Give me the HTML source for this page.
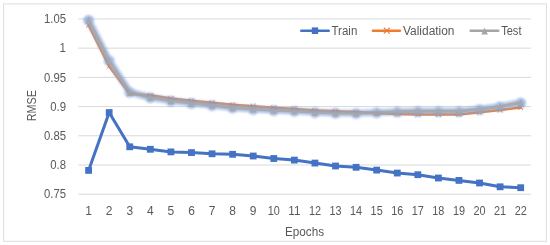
<!DOCTYPE html>
<html><head><meta charset="utf-8"><title>RMSE vs Epochs</title>
<style>html,body{margin:0;padding:0;background:#fff;width:550px;height:245px;overflow:hidden;}svg{display:block;}</style>
</head><body>
<svg width="550" height="245" viewBox="0 0 550 245">
<defs><filter id="glow" x="-10%" y="-50%" width="120%" height="200%"><feGaussianBlur stdDeviation="1.2"/></filter></defs>
<rect x="0" y="0" width="550" height="245" fill="#fff"/>
<rect x="3.6" y="3.9" width="542.8" height="237.4" fill="#fff" stroke="#DCDCDC" stroke-width="1"/>
<line x1="78.3" x2="531.2" y1="18.95" y2="18.95" stroke="#D9D9D9" stroke-width="1"/>
<line x1="78.3" x2="531.2" y1="48.16" y2="48.16" stroke="#D9D9D9" stroke-width="1"/>
<line x1="78.3" x2="531.2" y1="77.37" y2="77.37" stroke="#D9D9D9" stroke-width="1"/>
<line x1="78.3" x2="531.2" y1="106.58" y2="106.58" stroke="#D9D9D9" stroke-width="1"/>
<line x1="78.3" x2="531.2" y1="135.79" y2="135.79" stroke="#D9D9D9" stroke-width="1"/>
<line x1="78.3" x2="531.2" y1="165.00" y2="165.00" stroke="#D9D9D9" stroke-width="1"/>
<line x1="78.3" x2="531.2" y1="194.21" y2="194.21" stroke="#D9D9D9" stroke-width="1"/>
<text x="44.0" y="23.15" text-anchor="start" font-family="'Liberation Sans', sans-serif" font-size="12.0" fill="#595959"  textLength="22.0" lengthAdjust="spacingAndGlyphs">1.05</text>
<text x="59.6" y="52.36" text-anchor="start" font-family="'Liberation Sans', sans-serif" font-size="12.0" fill="#595959"  textLength="6.4" lengthAdjust="spacingAndGlyphs">1</text>
<text x="44.0" y="81.57" text-anchor="start" font-family="'Liberation Sans', sans-serif" font-size="12.0" fill="#595959"  textLength="22.0" lengthAdjust="spacingAndGlyphs">0.95</text>
<text x="50.2" y="110.78" text-anchor="start" font-family="'Liberation Sans', sans-serif" font-size="12.0" fill="#595959"  textLength="15.8" lengthAdjust="spacingAndGlyphs">0.9</text>
<text x="44.0" y="139.99" text-anchor="start" font-family="'Liberation Sans', sans-serif" font-size="12.0" fill="#595959"  textLength="22.0" lengthAdjust="spacingAndGlyphs">0.85</text>
<text x="50.2" y="169.20" text-anchor="start" font-family="'Liberation Sans', sans-serif" font-size="12.0" fill="#595959"  textLength="15.8" lengthAdjust="spacingAndGlyphs">0.8</text>
<text x="44.0" y="198.41" text-anchor="start" font-family="'Liberation Sans', sans-serif" font-size="12.0" fill="#595959"  textLength="22.0" lengthAdjust="spacingAndGlyphs">0.75</text>
<text x="88.60" y="214.8" text-anchor="middle" font-family="'Liberation Sans', sans-serif" font-size="12.0" fill="#595959" >1</text>
<text x="109.18" y="214.8" text-anchor="middle" font-family="'Liberation Sans', sans-serif" font-size="12.0" fill="#595959" >2</text>
<text x="129.75" y="214.8" text-anchor="middle" font-family="'Liberation Sans', sans-serif" font-size="12.0" fill="#595959" >3</text>
<text x="150.33" y="214.8" text-anchor="middle" font-family="'Liberation Sans', sans-serif" font-size="12.0" fill="#595959" >4</text>
<text x="170.90" y="214.8" text-anchor="middle" font-family="'Liberation Sans', sans-serif" font-size="12.0" fill="#595959" >5</text>
<text x="191.48" y="214.8" text-anchor="middle" font-family="'Liberation Sans', sans-serif" font-size="12.0" fill="#595959" >6</text>
<text x="212.06" y="214.8" text-anchor="middle" font-family="'Liberation Sans', sans-serif" font-size="12.0" fill="#595959" >7</text>
<text x="232.63" y="214.8" text-anchor="middle" font-family="'Liberation Sans', sans-serif" font-size="12.0" fill="#595959" >8</text>
<text x="253.21" y="214.8" text-anchor="middle" font-family="'Liberation Sans', sans-serif" font-size="12.0" fill="#595959" >9</text>
<text x="267.73" y="214.8" font-family="'Liberation Sans', sans-serif" font-size="12.0" fill="#595959"  textLength="12.1" lengthAdjust="spacingAndGlyphs">10</text>
<text x="288.31" y="214.8" font-family="'Liberation Sans', sans-serif" font-size="12.0" fill="#595959"  textLength="12.1" lengthAdjust="spacingAndGlyphs">11</text>
<text x="308.89" y="214.8" font-family="'Liberation Sans', sans-serif" font-size="12.0" fill="#595959"  textLength="12.1" lengthAdjust="spacingAndGlyphs">12</text>
<text x="329.46" y="214.8" font-family="'Liberation Sans', sans-serif" font-size="12.0" fill="#595959"  textLength="12.1" lengthAdjust="spacingAndGlyphs">13</text>
<text x="350.04" y="214.8" font-family="'Liberation Sans', sans-serif" font-size="12.0" fill="#595959"  textLength="12.1" lengthAdjust="spacingAndGlyphs">14</text>
<text x="370.61" y="214.8" font-family="'Liberation Sans', sans-serif" font-size="12.0" fill="#595959"  textLength="12.1" lengthAdjust="spacingAndGlyphs">15</text>
<text x="391.19" y="214.8" font-family="'Liberation Sans', sans-serif" font-size="12.0" fill="#595959"  textLength="12.1" lengthAdjust="spacingAndGlyphs">16</text>
<text x="411.77" y="214.8" font-family="'Liberation Sans', sans-serif" font-size="12.0" fill="#595959"  textLength="12.1" lengthAdjust="spacingAndGlyphs">17</text>
<text x="432.34" y="214.8" font-family="'Liberation Sans', sans-serif" font-size="12.0" fill="#595959"  textLength="12.1" lengthAdjust="spacingAndGlyphs">18</text>
<text x="452.92" y="214.8" font-family="'Liberation Sans', sans-serif" font-size="12.0" fill="#595959"  textLength="12.1" lengthAdjust="spacingAndGlyphs">19</text>
<text x="473.49" y="214.8" font-family="'Liberation Sans', sans-serif" font-size="12.0" fill="#595959"  textLength="12.1" lengthAdjust="spacingAndGlyphs">20</text>
<text x="494.07" y="214.8" font-family="'Liberation Sans', sans-serif" font-size="12.0" fill="#595959"  textLength="12.1" lengthAdjust="spacingAndGlyphs">21</text>
<text x="514.65" y="214.8" font-family="'Liberation Sans', sans-serif" font-size="12.0" fill="#595959"  textLength="12.1" lengthAdjust="spacingAndGlyphs">22</text>
<text x="285.00" y="235.6" font-family="'Liberation Sans', sans-serif" font-size="12.8" fill="#595959"  textLength="39" lengthAdjust="spacingAndGlyphs">Epochs</text>
<text transform="translate(35.6,105.7) rotate(-90)" x="-15.5" y="0" font-family="'Liberation Sans', sans-serif" font-size="12.8" fill="#595959"  textLength="31" lengthAdjust="spacingAndGlyphs">RMSE</text>
<polyline points="88.60,170.40 109.18,112.55 129.75,146.80 150.33,149.30 170.90,151.90 191.48,152.60 212.06,153.80 232.63,154.30 253.21,156.00 273.78,158.50 294.36,160.10 314.94,163.05 335.51,166.00 356.09,167.30 376.66,170.10 397.24,173.05 417.82,174.70 438.39,178.00 458.97,180.40 479.54,183.00 500.12,186.80 520.70,187.70" fill="none" stroke="#4472C4" stroke-width="3" stroke-linejoin="round" stroke-linecap="round"/>
<rect x="85.20" y="167.00" width="6.8" height="6.8" fill="#4472C4"/>
<rect x="105.78" y="109.15" width="6.8" height="6.8" fill="#4472C4"/>
<rect x="126.35" y="143.40" width="6.8" height="6.8" fill="#4472C4"/>
<rect x="146.93" y="145.90" width="6.8" height="6.8" fill="#4472C4"/>
<rect x="167.50" y="148.50" width="6.8" height="6.8" fill="#4472C4"/>
<rect x="188.08" y="149.20" width="6.8" height="6.8" fill="#4472C4"/>
<rect x="208.66" y="150.40" width="6.8" height="6.8" fill="#4472C4"/>
<rect x="229.23" y="150.90" width="6.8" height="6.8" fill="#4472C4"/>
<rect x="249.81" y="152.60" width="6.8" height="6.8" fill="#4472C4"/>
<rect x="270.38" y="155.10" width="6.8" height="6.8" fill="#4472C4"/>
<rect x="290.96" y="156.70" width="6.8" height="6.8" fill="#4472C4"/>
<rect x="311.54" y="159.65" width="6.8" height="6.8" fill="#4472C4"/>
<rect x="332.11" y="162.60" width="6.8" height="6.8" fill="#4472C4"/>
<rect x="352.69" y="163.90" width="6.8" height="6.8" fill="#4472C4"/>
<rect x="373.26" y="166.70" width="6.8" height="6.8" fill="#4472C4"/>
<rect x="393.84" y="169.65" width="6.8" height="6.8" fill="#4472C4"/>
<rect x="414.42" y="171.30" width="6.8" height="6.8" fill="#4472C4"/>
<rect x="434.99" y="174.60" width="6.8" height="6.8" fill="#4472C4"/>
<rect x="455.57" y="177.00" width="6.8" height="6.8" fill="#4472C4"/>
<rect x="476.14" y="179.60" width="6.8" height="6.8" fill="#4472C4"/>
<rect x="496.72" y="183.40" width="6.8" height="6.8" fill="#4472C4"/>
<rect x="517.30" y="184.30" width="6.8" height="6.8" fill="#4472C4"/>
<polyline points="88.60,25.20 109.18,66.20 129.75,94.00 150.33,95.30 170.90,98.60 191.48,100.80 212.06,102.80 232.63,104.80 253.21,106.30 273.78,107.80 294.36,109.00 314.94,110.50 335.51,111.20 356.09,112.00 376.66,113.30 397.24,114.00 417.82,114.50 438.39,114.50 458.97,114.40 479.54,112.20 500.12,110.00 520.70,107.60" fill="none" stroke="#ED7D31" stroke-width="2.5" stroke-linejoin="round" stroke-linecap="round"/>
<path d="M86.20,22.80L91.00,27.60M91.00,22.80L86.20,27.60" stroke="#ED7D31" stroke-width="1"/>
<path d="M106.78,63.80L111.58,68.60M111.58,63.80L106.78,68.60" stroke="#ED7D31" stroke-width="1"/>
<path d="M127.35,91.60L132.15,96.40M132.15,91.60L127.35,96.40" stroke="#ED7D31" stroke-width="1"/>
<path d="M147.93,92.90L152.73,97.70M152.73,92.90L147.93,97.70" stroke="#ED7D31" stroke-width="1"/>
<path d="M168.50,96.20L173.30,101.00M173.30,96.20L168.50,101.00" stroke="#ED7D31" stroke-width="1"/>
<path d="M189.08,98.40L193.88,103.20M193.88,98.40L189.08,103.20" stroke="#ED7D31" stroke-width="1"/>
<path d="M209.66,100.40L214.46,105.20M214.46,100.40L209.66,105.20" stroke="#ED7D31" stroke-width="1"/>
<path d="M230.23,102.40L235.03,107.20M235.03,102.40L230.23,107.20" stroke="#ED7D31" stroke-width="1"/>
<path d="M250.81,103.90L255.61,108.70M255.61,103.90L250.81,108.70" stroke="#ED7D31" stroke-width="1"/>
<path d="M271.38,105.40L276.18,110.20M276.18,105.40L271.38,110.20" stroke="#ED7D31" stroke-width="1"/>
<path d="M291.96,106.60L296.76,111.40M296.76,106.60L291.96,111.40" stroke="#ED7D31" stroke-width="1"/>
<path d="M312.54,108.10L317.34,112.90M317.34,108.10L312.54,112.90" stroke="#ED7D31" stroke-width="1"/>
<path d="M333.11,108.80L337.91,113.60M337.91,108.80L333.11,113.60" stroke="#ED7D31" stroke-width="1"/>
<path d="M353.69,109.60L358.49,114.40M358.49,109.60L353.69,114.40" stroke="#ED7D31" stroke-width="1"/>
<path d="M374.26,110.90L379.06,115.70M379.06,110.90L374.26,115.70" stroke="#ED7D31" stroke-width="1"/>
<path d="M394.84,111.60L399.64,116.40M399.64,111.60L394.84,116.40" stroke="#ED7D31" stroke-width="1"/>
<path d="M415.42,112.10L420.22,116.90M420.22,112.10L415.42,116.90" stroke="#ED7D31" stroke-width="1"/>
<path d="M435.99,112.10L440.79,116.90M440.79,112.10L435.99,116.90" stroke="#ED7D31" stroke-width="1"/>
<path d="M456.57,112.00L461.37,116.80M461.37,112.00L456.57,116.80" stroke="#ED7D31" stroke-width="1"/>
<path d="M477.14,109.80L481.94,114.60M481.94,109.80L477.14,114.60" stroke="#ED7D31" stroke-width="1"/>
<path d="M497.72,107.60L502.52,112.40M502.52,107.60L497.72,112.40" stroke="#ED7D31" stroke-width="1"/>
<path d="M518.30,105.20L523.10,110.00M523.10,105.20L518.30,110.00" stroke="#ED7D31" stroke-width="1"/>
<g filter="url(#glow)" opacity="0.7">
<polyline points="88.60,20.00 109.18,60.50 129.75,92.00 150.33,97.50 170.90,100.80 191.48,103.10 212.06,105.30 232.63,107.70 253.21,109.10 273.78,110.30 294.36,110.90 314.94,112.30 335.51,113.00 356.09,113.20 376.66,112.50 397.24,111.80 417.82,111.30 438.39,111.20 458.97,111.30 479.54,109.30 500.12,106.40 520.70,102.80" fill="none" stroke="#8FAADC" stroke-width="7" stroke-linejoin="round" stroke-linecap="round"/>
<circle cx="88.60" cy="20.30" r="5.3" fill="#7E9FDA"/>
<circle cx="109.18" cy="60.80" r="5.3" fill="#7E9FDA"/>
<circle cx="129.75" cy="92.30" r="5.3" fill="#7E9FDA"/>
<circle cx="150.33" cy="97.80" r="5.3" fill="#7E9FDA"/>
<circle cx="170.90" cy="101.10" r="5.3" fill="#7E9FDA"/>
<circle cx="191.48" cy="103.40" r="5.3" fill="#7E9FDA"/>
<circle cx="212.06" cy="105.60" r="5.3" fill="#7E9FDA"/>
<circle cx="232.63" cy="108.00" r="5.3" fill="#7E9FDA"/>
<circle cx="253.21" cy="109.40" r="5.3" fill="#7E9FDA"/>
<circle cx="273.78" cy="110.60" r="5.3" fill="#7E9FDA"/>
<circle cx="294.36" cy="111.20" r="5.3" fill="#7E9FDA"/>
<circle cx="314.94" cy="112.60" r="5.3" fill="#7E9FDA"/>
<circle cx="335.51" cy="113.30" r="5.3" fill="#7E9FDA"/>
<circle cx="356.09" cy="113.50" r="5.3" fill="#7E9FDA"/>
<circle cx="376.66" cy="112.80" r="5.3" fill="#7E9FDA"/>
<circle cx="397.24" cy="112.10" r="5.3" fill="#7E9FDA"/>
<circle cx="417.82" cy="111.60" r="5.3" fill="#7E9FDA"/>
<circle cx="438.39" cy="111.50" r="5.3" fill="#7E9FDA"/>
<circle cx="458.97" cy="111.60" r="5.3" fill="#7E9FDA"/>
<circle cx="479.54" cy="109.60" r="5.3" fill="#7E9FDA"/>
<circle cx="500.12" cy="106.70" r="5.3" fill="#7E9FDA"/>
<circle cx="520.70" cy="103.10" r="5.3" fill="#7E9FDA"/>
</g>
<g opacity="0.8">
<polyline points="88.60,20.00 109.18,60.50 129.75,92.00 150.33,97.50 170.90,100.80 191.48,103.10 212.06,105.30 232.63,107.70 253.21,109.10 273.78,110.30 294.36,110.90 314.94,112.30 335.51,113.00 356.09,113.20 376.66,112.50 397.24,111.80 417.82,111.30 438.39,111.20 458.97,111.30 479.54,109.30 500.12,106.40 520.70,102.80" fill="none" stroke="#A5A5A5" stroke-width="3" stroke-linejoin="round" stroke-linecap="round"/>
<path d="M88.60,16.50L92.00,23.50L85.20,23.50Z" fill="#A5A5A5"/>
<path d="M109.18,57.00L112.58,64.00L105.78,64.00Z" fill="#A5A5A5"/>
<path d="M129.75,88.50L133.15,95.50L126.35,95.50Z" fill="#A5A5A5"/>
<path d="M150.33,94.00L153.73,101.00L146.93,101.00Z" fill="#A5A5A5"/>
<path d="M170.90,97.30L174.30,104.30L167.50,104.30Z" fill="#A5A5A5"/>
<path d="M191.48,99.60L194.88,106.60L188.08,106.60Z" fill="#A5A5A5"/>
<path d="M212.06,101.80L215.46,108.80L208.66,108.80Z" fill="#A5A5A5"/>
<path d="M232.63,104.20L236.03,111.20L229.23,111.20Z" fill="#A5A5A5"/>
<path d="M253.21,105.60L256.61,112.60L249.81,112.60Z" fill="#A5A5A5"/>
<path d="M273.78,106.80L277.18,113.80L270.38,113.80Z" fill="#A5A5A5"/>
<path d="M294.36,107.40L297.76,114.40L290.96,114.40Z" fill="#A5A5A5"/>
<path d="M314.94,108.80L318.34,115.80L311.54,115.80Z" fill="#A5A5A5"/>
<path d="M335.51,109.50L338.91,116.50L332.11,116.50Z" fill="#A5A5A5"/>
<path d="M356.09,109.70L359.49,116.70L352.69,116.70Z" fill="#A5A5A5"/>
<path d="M376.66,109.00L380.06,116.00L373.26,116.00Z" fill="#A5A5A5"/>
<path d="M397.24,108.30L400.64,115.30L393.84,115.30Z" fill="#A5A5A5"/>
<path d="M417.82,107.80L421.22,114.80L414.42,114.80Z" fill="#A5A5A5"/>
<path d="M438.39,107.70L441.79,114.70L434.99,114.70Z" fill="#A5A5A5"/>
<path d="M458.97,107.80L462.37,114.80L455.57,114.80Z" fill="#A5A5A5"/>
<path d="M479.54,105.80L482.94,112.80L476.14,112.80Z" fill="#A5A5A5"/>
<path d="M500.12,102.90L503.52,109.90L496.72,109.90Z" fill="#A5A5A5"/>
<path d="M520.70,99.30L524.10,106.30L517.30,106.30Z" fill="#A5A5A5"/>
</g>
<line x1="301.3" x2="328.7" y1="30.7" y2="30.7" stroke="#4472C4" stroke-width="2.6" stroke-linecap="round"/>
<rect x="311.8" y="27.4" width="6.4" height="6.6" fill="#4472C4"/>
<text x="331.5" y="34.5" font-family="'Liberation Sans', sans-serif" font-size="12.0" fill="#595959"  textLength="25.8" lengthAdjust="spacingAndGlyphs">Train</text>
<line x1="372.9" x2="399.9" y1="30.7" y2="30.7" stroke="#ED7D31" stroke-width="2.6" stroke-linecap="round"/>
<path d="M383.80,27.70L389.80,33.70M389.80,27.70L383.80,33.70" stroke="#ED7D31" stroke-width="1.2"/>
<text x="403" y="34.5" font-family="'Liberation Sans', sans-serif" font-size="12.0" fill="#595959"  textLength="51.5" lengthAdjust="spacingAndGlyphs">Validation</text>
<line x1="470.7" x2="498.2" y1="30.7" y2="30.7" stroke="#A5A5A5" stroke-width="2.6" stroke-linecap="round"/>
<path d="M484.60,27.70L487.90,34.60L481.30,34.60Z" fill="#A5A5A5"/>
<text x="501.2" y="34.5" font-family="'Liberation Sans', sans-serif" font-size="12.0" fill="#595959"  textLength="20.3" lengthAdjust="spacingAndGlyphs">Test</text>
</svg>
</body></html>
